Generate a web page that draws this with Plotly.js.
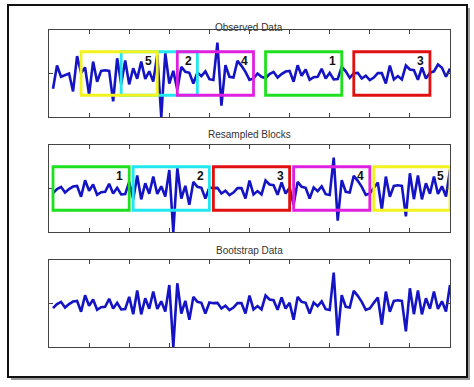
<!DOCTYPE html>
<html>
<head>
<meta charset="utf-8">
<script src="https://cdn.plot.ly/plotly-3.0.1.min.js"></script>
<style>html,body{margin:0;padding:0;background:#fff;}#chart{width:474px;height:387px;}</style>
</head>
<body>
<div id="chart"></div>
<script>
// Observed series, sample index 1..100
const observed = [
  -1.4, 0.73, -0.3, -0.12, 0.0, -1.65, 1.6,
  0.06, 0.55, -1.95, 1.1, -0.76, 0.24, 0.3, 0.24, -2.56, 1.4,
  -0.98, 1.2, -1.0, 0.48, -0.48, 1.1, -0.5, 0.2, -0.73, 1.7,
  -4.0, 1.86, -0.92, 0.24,
  -1.5, 0.61, 0.15, 0.06, -0.92, 0.09, -0.24, 0.2, -0.52, -0.6,
  2.84, -2.96, 0.76, -0.3, -0.37, 1.16, 0.7, 0.15, -0.58, -0.46,
  0.0, -0.3,
  -0.43, -0.05, 0.15, -0.37, -0.05, 0.18, 0.24, -0.76, 0.76, -0.2,
  0.37, -0.58, -0.34, -0.3, 0.43, -0.46, 0.06, -0.55, -0.52, 0.61,
  0.2, -0.4,
  0.03, 0.06, -0.46, -0.2, -0.6, -0.37, 0.03, 0.03, -0.92, 0.73,
  -0.55, -0.24, -0.55, 0.73, 0.37, 0.3, -0.58, 0.55, -0.46, 0.06,
  0.2, 0.82, 0.52, -0.3, 0.46
];
// Blocks (label 1..5) : start index in observed series, block length 20
const blockLabels = ['1', '2', '3', '4', '5'];
const blockStarts = [54, 18, 76, 32, 8];
const blockColors = ['#1ee01e', '#22e6f0', '#e01010', '#e020e0', '#f2f21e'];
const blockLength = 20;
const panelTitles = ['Observed Data', 'Resampled Blocks', 'Bootstrap Data'];

const xObs = observed.map((_, i) => i + 1);
// resampled series = blocks concatenated in label order
const resampled = [];
blockStarts.forEach(s => { for (let j = 0; j < blockLength; j++) resampled.push(observed[s - 1 + j]); });
const xRes = resampled.map((_, i) => i + 1);

const W = 474, H = 387;
const px = v => v / W, py = v => 1 - v / H;
const lineColor = '#1414c4';

const traces = [
  {x: xObs, y: observed, xaxis: 'x', yaxis: 'y', mode: 'lines', line: {color: lineColor, width: 2.6}, hoverinfo: 'skip'},
  {x: xRes, y: resampled, xaxis: 'x2', yaxis: 'y2', mode: 'lines', line: {color: lineColor, width: 2.6}, hoverinfo: 'skip'},
  {x: xRes, y: resampled, xaxis: 'x3', yaxis: 'y3', mode: 'lines', line: {color: lineColor, width: 2.6}, hoverinfo: 'skip'}
];

function xax(anchor) {
  return {domain: [px(49), px(450)], range: [0, 100], anchor: anchor,
    tickvals: [0,10,20,30,40,50,60,70,80,90,100], ticks: 'inside', ticklen: 4, tickcolor: '#444',
    showticklabels: false, showgrid: false, zeroline: false, showline: true, mirror: 'ticks',
    linecolor: '#444', linewidth: 1, fixedrange: true};
}
function yax(anchor, top, bottom) {
  return {domain: [py(bottom), py(top)], range: [-4, 4], anchor: anchor,
    tickvals: [0], ticks: 'inside', ticklen: 4, tickcolor: '#444',
    showticklabels: false, showgrid: false, zeroline: false, showline: true, mirror: 'ticks',
    linecolor: '#444', linewidth: 1, fixedrange: true};
}

const shapes = [
  {type: 'rect', xref: 'paper', yref: 'paper', x0: px(11), x1: px(470), y0: py(380), y1: py(8),
   line: {width: 0}, fillcolor: '#9a9a9a', layer: 'below'},
  {type: 'rect', xref: 'paper', yref: 'paper', x0: px(8), x1: px(467), y0: py(377), y1: py(5),
   line: {color: '#111', width: 2}, fillcolor: '#ffffff', layer: 'below'}
];
const annotations = [];
// observed boxes: draw order cyan, yellow, magenta, green, red
const obsOrder = [1, 4, 3, 0, 2];
obsOrder.forEach(k => {
  const s = blockStarts[k];
  shapes.push({type: 'rect', xref: 'x', yref: 'y', x0: s, x1: s + blockLength - 1, y0: -2, y1: 2,
    line: {color: blockColors[k], width: 2.8}});
  annotations.push({xref: 'x', yref: 'y', x: s + blockLength - 3.3, y: 1.15, text: '<b>' + blockLabels[k] + '</b>',
    showarrow: false, font: {family: 'Liberation Sans, Arial, sans-serif', size: 12, color: '#111'}});
});
blockLabels.forEach((lab, k) => {
  const s = k * blockLength + 1;
  shapes.push({type: 'rect', xref: 'x2', yref: 'y2', x0: s, x1: s + blockLength - 1, y0: -2, y1: 2,
    line: {color: blockColors[k], width: 2.8}});
  annotations.push({xref: 'x2', yref: 'y2', x: s + blockLength - 3.3, y: 1.15, text: '<b>' + lab + '</b>',
    showarrow: false, font: {family: 'Liberation Sans, Arial, sans-serif', size: 12, color: '#111'}});
});
const titleY = [20, 135, 250];
panelTitles.forEach((t, i) => {
  annotations.push({xref: 'paper', yref: 'paper', x: px(249.5), y: py(titleY[i]), text: t, showarrow: false,
    font: {family: 'Liberation Sans, Arial, sans-serif', size: 10, color: '#333'}});
});

const layout = {
  width: W, height: H, margin: {l: 0, r: 0, t: 0, b: 0},
  paper_bgcolor: '#ffffff', plot_bgcolor: 'rgba(0,0,0,0)', showlegend: false,
  xaxis: xax('y'), yaxis: yax('x', 30, 117),
  xaxis2: xax('y2'), yaxis2: yax('x2', 145, 232),
  xaxis3: xax('y3'), yaxis3: yax('x3', 260, 347),
  shapes: shapes, annotations: annotations
};
Plotly.newPlot('chart', traces, layout, {staticPlot: true, displayModeBar: false});
</script>
</body>
</html>
